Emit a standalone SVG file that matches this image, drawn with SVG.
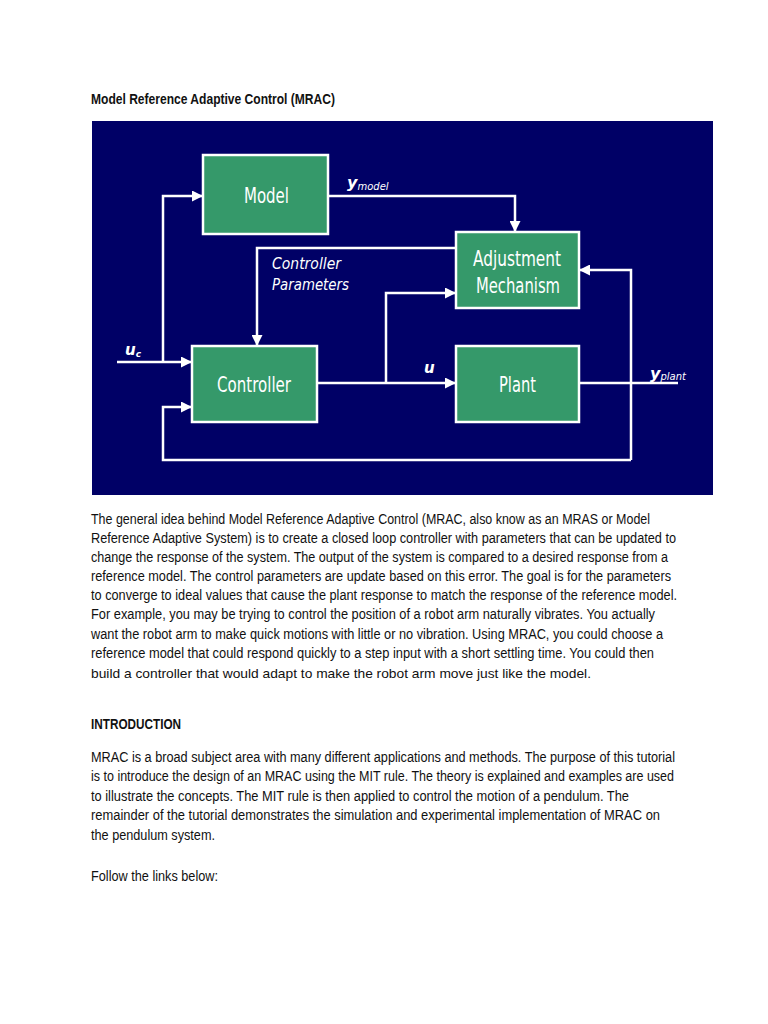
<svg xmlns="http://www.w3.org/2000/svg" width="768" height="1024" viewBox="0 0 768 1024">
<style>
.doc{font-family:"Liberation Sans",Arial,sans-serif;font-size:14px;fill:#111111}
.b{font-weight:bold}
.box{fill:#35996a;stroke:#ffffff;stroke-width:2.5}
.lbl{font-family:"DejaVu Sans","Liberation Sans",sans-serif;font-size:22px;fill:#ffffff;text-anchor:start}
.sig{font-family:"DejaVu Sans","Liberation Sans",sans-serif;font-style:italic;fill:#ffffff}
.wire{fill:none;stroke:#ffffff;stroke-width:2.5}
</style>
<defs>
<marker id="ah" markerUnits="userSpaceOnUse" markerWidth="11" markerHeight="11" refX="11" refY="5.5" orient="auto">
<path d="M0,0 L11,5.5 L0,11 z" fill="#ffffff"/>
</marker>
</defs>
<rect width="768" height="1024" fill="#ffffff"/>
<text class="doc b" x="91" y="104" textLength="244" lengthAdjust="spacingAndGlyphs">Model Reference Adaptive Control (MRAC)</text>
<rect x="92" y="121" width="621" height="374" fill="#000066"/>
<g id="connectors">
<path class="wire" d="M117 362 H192" marker-end="url(#ah)"/>
<path class="wire" d="M163 362 V196 H203" marker-end="url(#ah)"/>
<path class="wire" d="M328 196 H515 V232" marker-end="url(#ah)"/>
<path class="wire" d="M456 248 H257 V346" marker-end="url(#ah)"/>
<path class="wire" d="M317 383 H456" marker-end="url(#ah)"/>
<path class="wire" d="M386 383 V293 H456" marker-end="url(#ah)"/>
<path class="wire" d="M579 383 H678"/>
<path class="wire" d="M631 460 V270 H579" marker-end="url(#ah)"/>
<path class="wire" d="M631 460 H163 V407 H192" marker-end="url(#ah)"/>
</g>
<g id="model">
<rect class="box" x="203" y="155" width="125" height="79"/>
<text class="lbl" x="244" y="203" textLength="45" lengthAdjust="spacingAndGlyphs">Model</text>
</g>
<g id="adjustment">
<rect class="box" x="456" y="232" width="123" height="76"/>
<text class="lbl" x="473" y="266" textLength="88" lengthAdjust="spacingAndGlyphs">Adjustment</text>
<text class="lbl" x="476" y="293" textLength="84" lengthAdjust="spacingAndGlyphs">Mechanism</text>
</g>
<g id="controller">
<rect class="box" x="192" y="346" width="125" height="76"/>
<text class="lbl" x="217" y="392" textLength="74" lengthAdjust="spacingAndGlyphs">Controller</text>
</g>
<g id="plant">
<rect class="box" x="456" y="346" width="123" height="76"/>
<text class="lbl" x="499" y="392" textLength="37" lengthAdjust="spacingAndGlyphs">Plant</text>
</g>
<g id="labels">
<text class="sig" x="347" y="188" font-size="16" font-weight="bold">y<tspan font-size="10" font-weight="normal" dy="2">model</tspan></text>
<text class="sig" x="272" y="269" font-size="15" textLength="69" lengthAdjust="spacingAndGlyphs">Controller</text>
<text class="sig" x="272" y="290" font-size="15" textLength="77" lengthAdjust="spacingAndGlyphs">Parameters</text>
<text class="sig" x="125" y="355" font-size="15" font-weight="bold">u<tspan font-size="9" dy="2">c</tspan></text>
<text class="sig" x="424" y="373" font-size="15" font-weight="bold">u</text>
<text class="sig" x="650" y="379" font-size="16" font-weight="bold">y<tspan font-size="10" font-weight="normal" dy="1">plant</tspan></text>
</g>
<g id="body">
<text class="doc" x="91" y="524" textLength="559" lengthAdjust="spacingAndGlyphs">The general idea behind Model Reference Adaptive Control (MRAC, also know as an MRAS or Model</text>
<text class="doc" x="91" y="543" textLength="585" lengthAdjust="spacingAndGlyphs">Reference Adaptive System) is to create a closed loop controller with parameters that can be updated to</text>
<text class="doc" x="91" y="562" textLength="577" lengthAdjust="spacingAndGlyphs">change the response of the system. The output of the system is compared to a desired response from a</text>
<text class="doc" x="91" y="581" textLength="580" lengthAdjust="spacingAndGlyphs">reference model. The control parameters are update based on this error. The goal is for the parameters</text>
<text class="doc" x="91" y="600" textLength="586" lengthAdjust="spacingAndGlyphs">to converge to ideal values that cause the plant response to match the response of the reference model.</text>
<text class="doc" x="91" y="619" textLength="564" lengthAdjust="spacingAndGlyphs">For example, you may be trying to control the position of a robot arm naturally vibrates. You actually</text>
<text class="doc" x="91" y="639" textLength="572" lengthAdjust="spacingAndGlyphs">want the robot arm to make quick motions with little or no vibration. Using MRAC, you could choose a</text>
<text class="doc" x="91" y="658" textLength="563" lengthAdjust="spacingAndGlyphs">reference model that could respond quickly to a step input with a short settling time. You could then</text>
<text class="doc" x="91" y="678" textLength="500" lengthAdjust="spacingAndGlyphs" style="font-size:13.2px">build a controller that would adapt to make the robot arm move just like the model.</text>
<text class="doc b" x="91" y="729" textLength="90" lengthAdjust="spacingAndGlyphs">INTRODUCTION</text>
<text class="doc" x="91" y="762" textLength="584" lengthAdjust="spacingAndGlyphs">MRAC is a broad subject area with many different applications and methods. The purpose of this tutorial</text>
<text class="doc" x="91" y="781" textLength="583" lengthAdjust="spacingAndGlyphs">is to introduce the design of an MRAC using the MIT rule. The theory is explained and examples are used</text>
<text class="doc" x="91" y="801" textLength="538" lengthAdjust="spacingAndGlyphs">to illustrate the concepts. The MIT rule is then applied to control the motion of a pendulum. The</text>
<text class="doc" x="91" y="820" textLength="569" lengthAdjust="spacingAndGlyphs">remainder of the tutorial demonstrates the simulation and experimental implementation of MRAC on</text>
<text class="doc" x="91" y="840" textLength="124" lengthAdjust="spacingAndGlyphs">the pendulum system.</text>
<text class="doc" x="91" y="881" textLength="127" lengthAdjust="spacingAndGlyphs">Follow the links below:</text>
</g>
</svg>
